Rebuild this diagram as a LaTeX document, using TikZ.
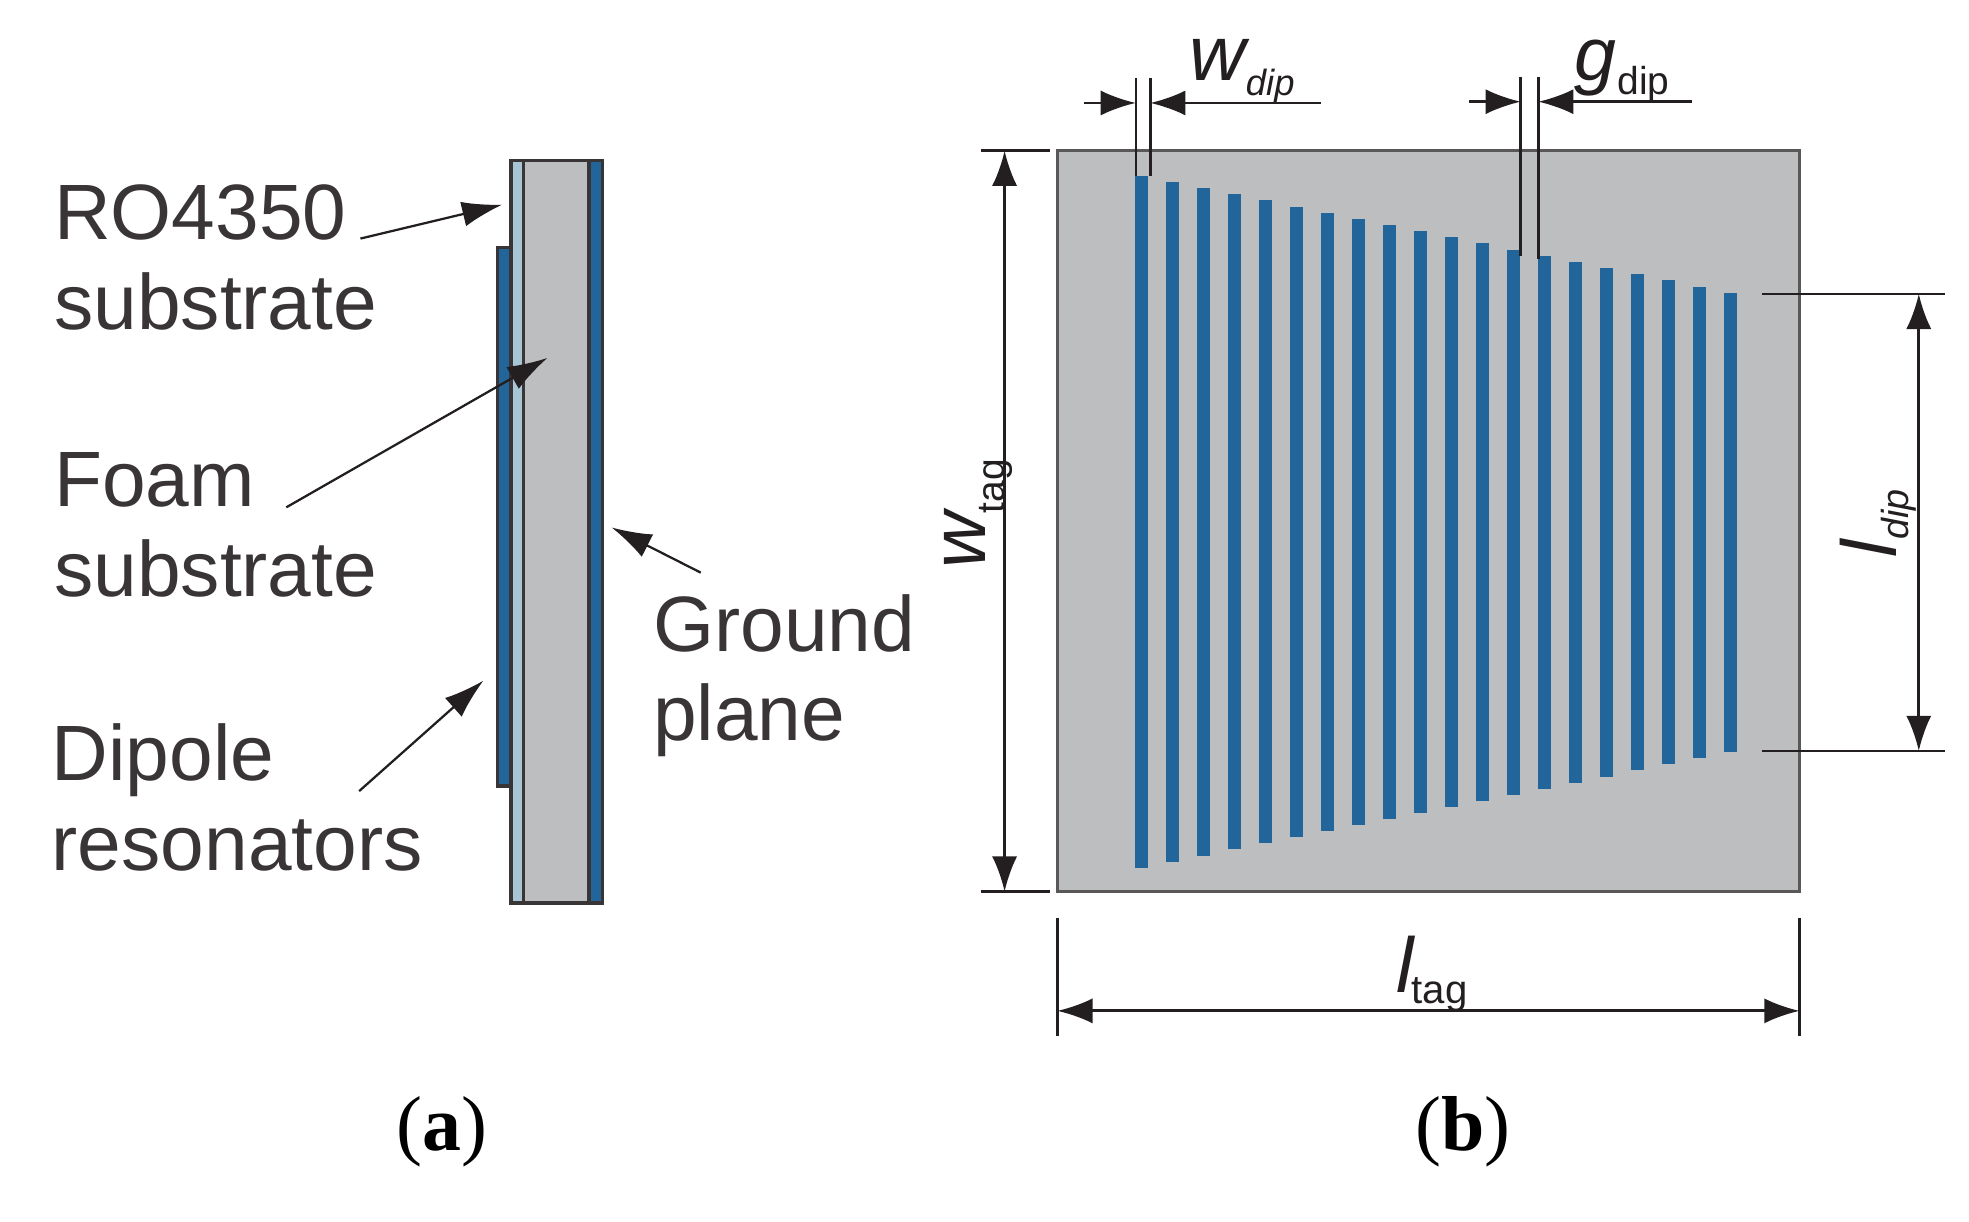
\documentclass[tikz,border=0pt]{standalone}
\usepackage{fontspec}
\setmainfont{Liberation Sans}
\newfontfamily\capfont{Liberation Serif}
\usetikzlibrary{arrows.meta}
\definecolor{patchblue}{HTML}{22659A}
\definecolor{roblue}{HTML}{A8C5D6}
\definecolor{foamgray}{HTML}{BCBEC0}
\definecolor{inkline}{HTML}{231F20}

\tikzstyle{layer}=[draw=inkline!90,line width=2.6pt]
\tikzstyle{callout}=[inner sep=0pt,anchor=west,align=left,text=inkline!90,font=\fontsize{62.5}{71}\selectfont]
\tikzstyle{pointer}=[-{Latex[length=32pt,width=20pt]},inkline,line width=1.8pt]
\tikzstyle{dimarrow}=[{Latex[length=28pt,width=20pt]}-{Latex[length=28pt,width=20pt]},inkline,line width=2.2pt]
\tikzstyle{oneway}=[-{Latex[length=28pt,width=20pt]},inkline,line width=2.2pt]
\tikzstyle{extline}=[inkline,line width=2pt]
\tikzstyle{symbol}=[inner sep=0pt,text=inkline]

\begin{document}
\begin{tikzpicture}[x=1pt,y=-1pt]
	\useasboundingbox (0,0) rectangle (1568,973);
	% (a) side view
	\draw[layer,fill=patchblue] (396,197) rectangle (407,626);
	\draw[layer,fill=roblue] (407,128) rectangle (417,719);
	\draw[layer,fill=foamgray] (417,128) rectangle (469,719);
	\draw[layer,fill=patchblue] (469,128) rectangle (480,719);

	\node[callout] (RO) at (43,205) {RO4350\\substrate};
	\node[callout] (Foam) at (43,418) {Foam\\substrate};
	\node[callout] (Dipole) at (41,635) {Dipole\\resonators};
	\node[callout] (Ground) at (520,538) {Ground\\plane};

	\coordinate (ROs) at (287,190);
	\coordinate (ROe) at (400,163);
	\coordinate (Foams) at (228,404);
	\coordinate (Foame) at (436,285);
	\coordinate (Dipoles) at (286,630);
	\coordinate (Dipolee) at (385,542);
	\coordinate (Grounds) at (558,456);
	\coordinate (Grounde) at (487,420);
	\draw[pointer] (ROs) -- (ROe);
	\draw[pointer] (Foams) -- (Foame);
	\draw[pointer] (Dipoles) -- (Dipolee);
	\draw[pointer] (Grounds) -- (Grounde);

	\node[inner sep=0pt] (capA) at (352,901) {\capfont\fontsize{62}{62}\selectfont (\textbf{a})};

	% (b) top view
	\draw[fill=foamgray,draw=inkline!75,line width=2.4pt] (842,120) rectangle (1433,710);
	\foreach \nr in {0,...,19}{
		\pgfmathsetmacro{\xs}{909+\nr*24.68}
		\pgfmathsetmacro{\yt}{140+\nr*4.9}
		\pgfmathsetmacro{\yb}{691-\nr*4.84}
		\fill[patchblue] ({\xs-5.4},\yt) rectangle ({\xs+5.4},\yb);
	}

	% w_dip
	\coordinate (wa) at (904.5,62);
	\coordinate (wb) at (904.5,140);
	\coordinate (wc) at (916,62);
	\coordinate (wd) at (916,140);
	\draw[extline] (wa) -- (wb);
	\draw[extline] (wc) -- (wd);
	\coordinate (wl) at (863,82);
	\coordinate (wm) at (904.5,82);
	\coordinate (wn) at (916,82);
	\coordinate (wr) at (1052,82);
	\draw[oneway] (wl) -- (wm);
	\draw[oneway] (wr) -- (wn);
	\node[symbol,anchor=base west] (wsym) at (947,64) {\fontsize{62}{62}\selectfont\itshape w};
	\node[symbol,anchor=base west] (wsub) at (992,76) {\fontsize{29}{29}\selectfont\itshape dip};

	% g_dip
	\coordinate (ga) at (1211,61);
	\coordinate (gb) at (1211,204);
	\coordinate (gc) at (1225,61);
	\coordinate (gd) at (1225,206);
	\draw[extline] (ga) -- (gb);
	\draw[extline] (gc) -- (gd);
	\coordinate (gl) at (1170,81);
	\coordinate (gm) at (1211,81);
	\coordinate (gn) at (1225,81);
	\coordinate (gr) at (1347,81);
	\draw[oneway] (gl) -- (gm);
	\draw[oneway] (gr) -- (gn);
	\node[symbol,anchor=base west] (gsym) at (1254,64) {\fontsize{60}{60}\selectfont\itshape g};
	\node[symbol,anchor=base west] (gsub) at (1288,75) {\fontsize{31}{31}\selectfont dip};

	% w_tag
	\coordinate (ta) at (781,120);
	\coordinate (tb) at (836,120);
	\coordinate (tc) at (781,710);
	\coordinate (td) at (836,710);
	\draw[extline] (ta) -- (tb);
	\draw[extline] (tc) -- (td);
	\coordinate (tt) at (800,120);
	\coordinate (tu) at (800,710);
	\draw[dimarrow] (tt) -- (tu);
	\node[symbol,anchor=base west,rotate=90] (tsym) at (785,453) {\fontsize{62}{62}\selectfont\itshape w};
	\node[symbol,anchor=base west,rotate=90] (tsub) at (800,409) {\fontsize{31}{31}\selectfont tag};

	% l_tag
	\coordinate (la) at (842,731);
	\coordinate (lb) at (842,825);
	\coordinate (lc) at (1433,731);
	\coordinate (ld) at (1433,825);
	\draw[extline] (la) -- (lb);
	\draw[extline] (lc) -- (ld);
	\coordinate (lt) at (842,805);
	\coordinate (lu) at (1433,805);
	\draw[dimarrow] (lt) -- (lu);
	\node[symbol,anchor=base west] (lsym) at (1112,790) {\fontsize{62}{62}\selectfont\itshape l};
	\node[symbol,anchor=base west] (lsub) at (1124,799) {\fontsize{32}{32}\selectfont tag};

	% l_dip
	\coordinate (da) at (1403,234);
	\coordinate (db) at (1549,234);
	\coordinate (dc) at (1403,598);
	\coordinate (dd) at (1549,598);
	\draw[extline] (da) -- (db);
	\draw[extline] (dc) -- (dd);
	\coordinate (dt) at (1528,234);
	\coordinate (du) at (1528,598);
	\draw[dimarrow] (dt) -- (du);
	\node[symbol,anchor=base west,rotate=90] (dsym) at (1510,444) {\fontsize{62}{62}\selectfont\itshape l};
	\node[symbol,anchor=base west,rotate=90] (dsub) at (1520,430) {\fontsize{30}{30}\selectfont\itshape dip};

	\node[inner sep=0pt] (capB) at (1165,901) {\capfont\fontsize{62}{62}\selectfont (\textbf{b})};
\end{tikzpicture}
\end{document}
